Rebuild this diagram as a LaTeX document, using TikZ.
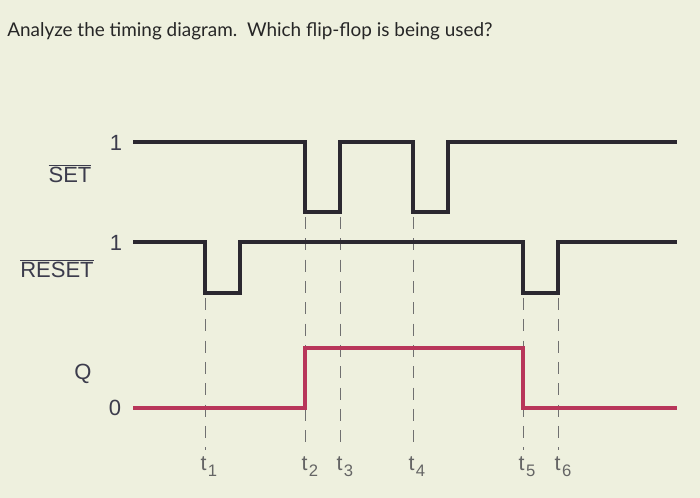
\documentclass[tikz,border=0pt]{standalone}
\usepackage{fontspec}
\setmainfont{Liberation Sans}
\newfontfamily\titlefont{Lato}
\definecolor{bgc}{HTML}{EEF0DE}
\definecolor{wave}{HTML}{2B2830}
\definecolor{qwave}{HTML}{B8365A}
\definecolor{lbl}{HTML}{3C3C4C}
\definecolor{dashc}{HTML}{707070}
\newcommand{\tsub}[1]{t\hspace{1pt}\raisebox{-4.5pt}{\fontsize{12.5}{14}\selectfont #1}}
\tikzset{
  sig/.style={draw=wave,line width=3pt,line join=miter},
  qsig/.style={draw=qwave,line width=3pt,line join=miter},
  guide/.style={draw=dashc,line width=0.7pt,dash pattern=on 9pt off 7pt},
  lab/.style={text=lbl,font=\fontsize{16.5}{18}\selectfont,inner sep=0pt},
  tlab/.style={text=dashc!90!black,font=\fontsize{16}{18}\selectfont,inner sep=0pt},
}
\begin{document}
\begin{tikzpicture}[x=0.75pt,y=-0.75pt]
\fill[bgc] (0,0) rectangle (700,498);
\useasboundingbox (0,0) rectangle (700,498);
% title
\node[anchor=west,inner sep=0pt,text=black!85,font=\titlefont\fontsize{14.2}{16}\selectfont] (title) at (7,31) {Analyze the timing diagram.\ \ Which flip-flop is being used?};
% labels
\node[lab] (setl) at (70,174) {$\overline{\mbox{SET}}$};
\node[lab] (resetl) at (57,269) {$\overline{\mbox{RESET}}$};
\node[lab] (ql) at (83,374) {Q};
\node[lab] (one1) at (116,143) {1};
\node[lab] (one2) at (116,243) {1};
\node[lab] (zero) at (115,408) {0};
% time guide coordinates
\coordinate (t1a) at (205,298); \coordinate (t1b) at (205,450);
\coordinate (t2a) at (305,217); \coordinate (t2b) at (305,450);
\coordinate (t3a) at (340,217); \coordinate (t3b) at (340,450);
\coordinate (t4a) at (413,217); \coordinate (t4b) at (413,450);
\coordinate (t5a) at (523,298); \coordinate (t5b) at (523,450);
\coordinate (t6a) at (558,298); \coordinate (t6b) at (558,450);
\foreach \i in {1,...,6} { \draw[guide] (t\i a) -- (t\i b); }
% waveforms
\draw[sig] (133,142) -- (305,142) -- (305,212) -- (340,212) -- (340,142) -- (413,142) -- (413,212) -- (448,212) -- (448,142) -- (677,142);
\draw[sig] (133,242) -- (205,242) -- (205,293) -- (240,293) -- (240,242) -- (523,242) -- (523,293) -- (558,293) -- (558,242) -- (677,242);
\draw[qsig] (133,408) -- (305,408) -- (305,348) -- (523,348) -- (523,408) -- (677,408);
% time labels
\node[tlab] (lt1) at (209,467) {\tsub{1}};
\node[tlab] (lt2) at (310,467) {\tsub{2}};
\node[tlab] (lt3) at (345,467) {\tsub{3}};
\node[tlab] (lt4) at (417,467) {\tsub{4}};
\node[tlab] (lt5) at (527,467) {\tsub{5}};
\node[tlab] (lt6) at (563,467) {\tsub{6}};
\end{tikzpicture}
\end{document}
